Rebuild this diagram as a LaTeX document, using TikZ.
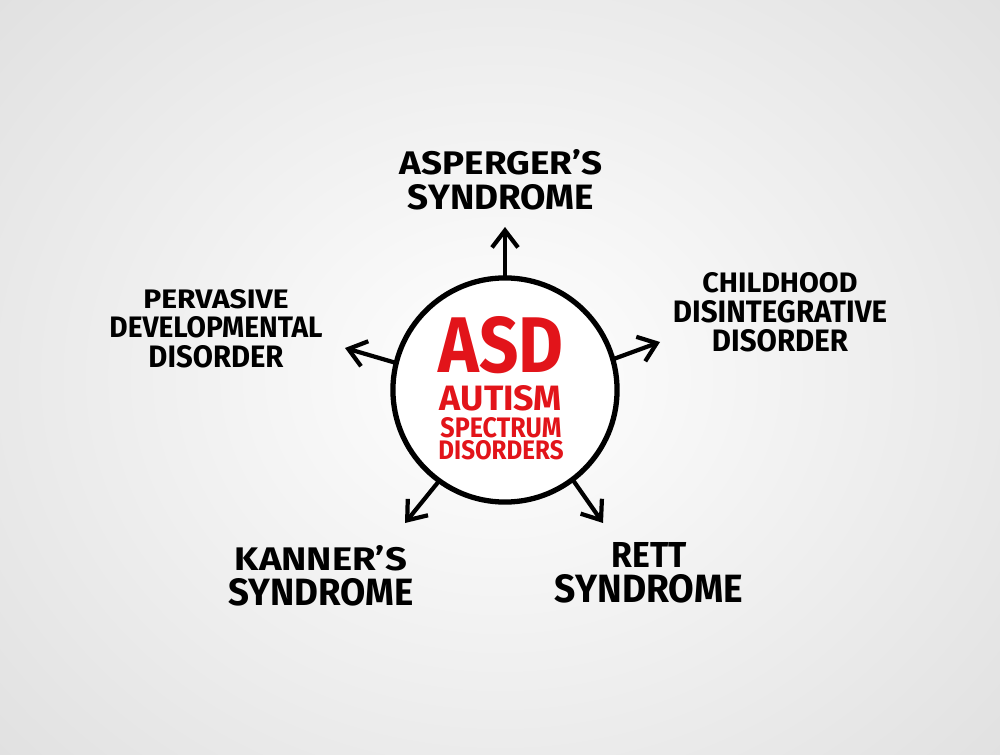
\documentclass[tikz,border=0pt]{standalone}
\usepackage{fontspec}
\setmainfont{Fira Sans}
\usepackage{graphicx}
\usetikzlibrary{arrows.meta,positioning,calc}
\definecolor{asdred}{RGB}{226,20,26}
% one hand-lettered line: width, cap height (cm), text
\newcommand{\penline}[3]{\resizebox{#1cm}{#2cm}{\bfseries #3}}

\begin{document}
\begin{tikzpicture}[x=0.01cm,y=-0.01cm,
    hub/.style={circle, draw=black, line width=1.5pt, fill=white, minimum size=2.24cm, inner sep=0pt},
    branch/.style={-{Straight Barb[length=0.17cm,width=0.26cm]}, line width=1.2pt, line cap=round},
    topic/.style={align=center, inner sep=0pt, text=black},
    core/.style={anchor=base, inner sep=0pt, text=asdred}]
    \useasboundingbox (0,0) rectangle (1000,755);
    \shade[inner color=white, outer color=black!14] (-300,-300) rectangle (1300,1055);
    % centre
    \node[hub] (hub) at (505,390) {};
    \node[core] (asd) at (501,373) {\penline{1.25}{0.56}{ASD}};
    \node[core] (autism) at (501,410) {\penline{1.22}{0.25}{AUTISM}};
    \node[core] (spectrum) at (501,437) {\penline{1.21}{0.20}{SPECTRUM}};
    \node[core] (disorders) at (501,460) {\penline{1.25}{0.19}{DISORDERS}};
    % branches
    \node[topic, font=\fontsize{10pt}{0.35cm}\selectfont] (asp) at (501,180)
        {\penline{2.02}{0.25}{ASPERGER'S}\\\penline{1.86}{0.25}{SYNDROME}};
    \node[topic, font=\fontsize{10pt}{0.295cm}\selectfont] (cdd) at (780,312.5)
        {\penline{1.55}{0.20}{CHILDHOOD}\\\penline{2.14}{0.22}{DISINTEGRATIVE}\\\penline{1.36}{0.22}{DISORDER}};
    \node[topic, font=\fontsize{10pt}{0.295cm}\selectfont] (pdd) at (216,328.5)
        {\penline{1.45}{0.19}{PERVASIVE}\\\penline{2.13}{0.21}{DEVELOPMENTAL}\\\penline{1.35}{0.22}{DISORDER}};
    \node[topic, font=\fontsize{10pt}{0.35cm}\selectfont] (kan) at (321,576)
        {\penline{1.72}{0.25}{KANNER'S}\\\penline{1.85}{0.27}{SYNDROME}};
    \node[topic, font=\fontsize{10pt}{0.35cm}\selectfont] (rett) at (649,573)
        {\penline{0.75}{0.25}{RETT}\\\penline{1.88}{0.28}{SYNDROME}};
    \coordinate (aspTip) at (505,227);
    \coordinate (cddTip) at (660,342);
    \coordinate (pddTip) at (345,348);
    \coordinate (kanTip) at (405,523);
    \coordinate (rettTip) at (603,523);
    \draw[branch] (hub.90) -- (aspTip);
    \draw[branch] (hub.16) -- (cddTip);
    \draw[branch] (hub.166) -- (pddTip);
    \draw[branch] (hub.234) -- (kanTip);
    \draw[branch] (hub.307) -- (rettTip);
\end{tikzpicture}
\end{document}
